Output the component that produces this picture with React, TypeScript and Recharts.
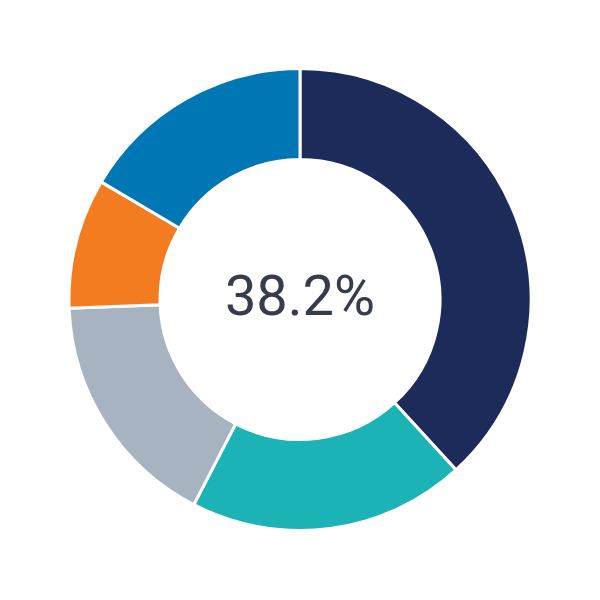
import React from "react";
import { PieChart, Pie, Cell } from "recharts";

const categories = ["A", "B", "C", "D", "E"];
const values = [38.2, 19.4, 16.8, 9.1, 16.5];
const colors = ["#1c2b5a", "#1bb3b5", "#a8b3c2", "#f47c20", "#0077b5"];
const centerLabel = "38.2%";

const data = categories.map((name, i) => ({ name, value: values[i] }));

export default function App() {
  return (
    <div style={{ width: 600, height: 600, margin: -8, background: "#fff" }}>
      <PieChart width={600} height={600} margin={{ top: 0, right: 0, bottom: 0, left: 0 }}>
        <Pie
          data={data}
          dataKey="value"
          nameKey="name"
          cx={300}
          cy={299.5}
          innerRadius={140}
          outerRadius={231}
          startAngle={90}
          endAngle={-270}
          stroke="#ffffff"
          strokeWidth={3}
          isAnimationActive={false}
        >
          {data.map((d, i) => (
            <Cell key={d.name} fill={colors[i]} />
          ))}
        </Pie>
        <text
          x={300}
          y={296}
          textAnchor="middle"
          dominantBaseline="central"
          fontFamily="Roboto"
          fontSize={56}
          fill="#363c49"
        >
          {centerLabel}
        </text>
      </PieChart>
    </div>
  );
}
